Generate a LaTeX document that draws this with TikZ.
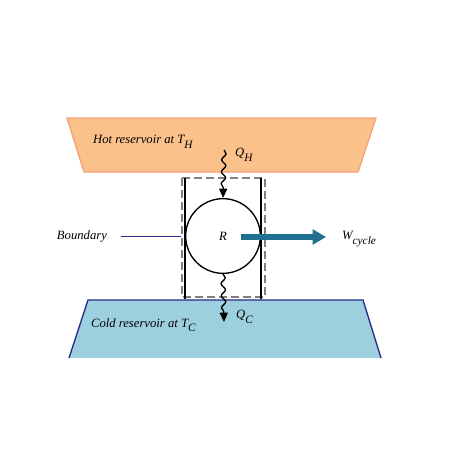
\documentclass[tikz,border=0pt]{standalone}
\usepackage{fontspec}
\setmainfont{Liberation Serif}
\usetikzlibrary{positioning}
\usetikzlibrary{calc}
\usetikzlibrary{decorations.pathmorphing}
\usetikzlibrary{arrows.meta}
\definecolor{hotfill}{HTML}{FAC18B}
\definecolor{hotedge}{HTML}{F4A27A}
\definecolor{coldfill}{HTML}{9DD0DE}
\definecolor{coldedge}{HTML}{2A2A8A}
\definecolor{workblue}{HTML}{22708F}
\newcommand{\lowsub}[1]{\raisebox{-3.5pt}{\fontsize{8.5}{10}\selectfont#1}}
\tikzset{lbl/.style={font=\itshape\fontsize{9.5}{11}\selectfont},
heat/.style={decorate,decoration={snake,amplitude=1.6pt,segment length=9pt,post length=7pt},-{Triangle[length=7pt,width=6pt]}}}

\begin{document}
\begin{tikzpicture}[x=0.75pt,y=-0.75pt,line width=1pt]
\useasboundingbox (0,0) rectangle (450,450);
% reservoirs
\draw[hotedge,fill=hotfill] (67,118) -- (376,118) -- (358,172) -- (84,172) -- cycle;
\fill[coldfill] (88,300) -- (363,300) -- (381,358) -- (69,358) -- cycle;
\draw[coldedge] (69,358) -- (88,300) -- (363,300) -- (381,358);
\node[lbl,anchor=west] (hot) at (88,142) {Hot reservoir at T\lowsub{H}};
\node[lbl,anchor=west] (cold) at (86,325) {Cold reservoir at T\lowsub{C}};
% system
\draw[gray,dashed,line width=1.3pt,dash pattern=on 6pt off 3pt] (182,178) rectangle (265,297);
\draw[line width=1.2pt] (185,178) -- (185,299);
\draw[line width=1.2pt] (261,178) -- (261,299);
\node[draw,circle,minimum size=56pt,inner sep=0pt] (R) at (223,236) {};
\node[lbl] at (R) {R};
% heat and work
\coordinate (qh0) at (224,150);
\coordinate (qc1) at (224,322);
\draw[heat] (qh0) -- (R.north);
\draw[heat] (R.south) -- (qc1);
\node[lbl,anchor=west] (QH) at (230,155) {Q\lowsub{H}};
\node[lbl,anchor=west] (QC) at (231,317) {Q\lowsub{C}};
\coordinate (w0) at (241,237);
\node[lbl,anchor=west] (W) at (337,239) {W\lowsub{cycle}};
\draw[workblue,line width=4pt,-{Triangle[length=10pt,width=11pt]}] (w0) -- (326,237);
% boundary
\node[lbl,anchor=east] (bd) at (112,236) {Boundary};
\draw[coldedge,line width=0.6pt] (121,236) -- (181,236);
\end{tikzpicture}
\end{document}
